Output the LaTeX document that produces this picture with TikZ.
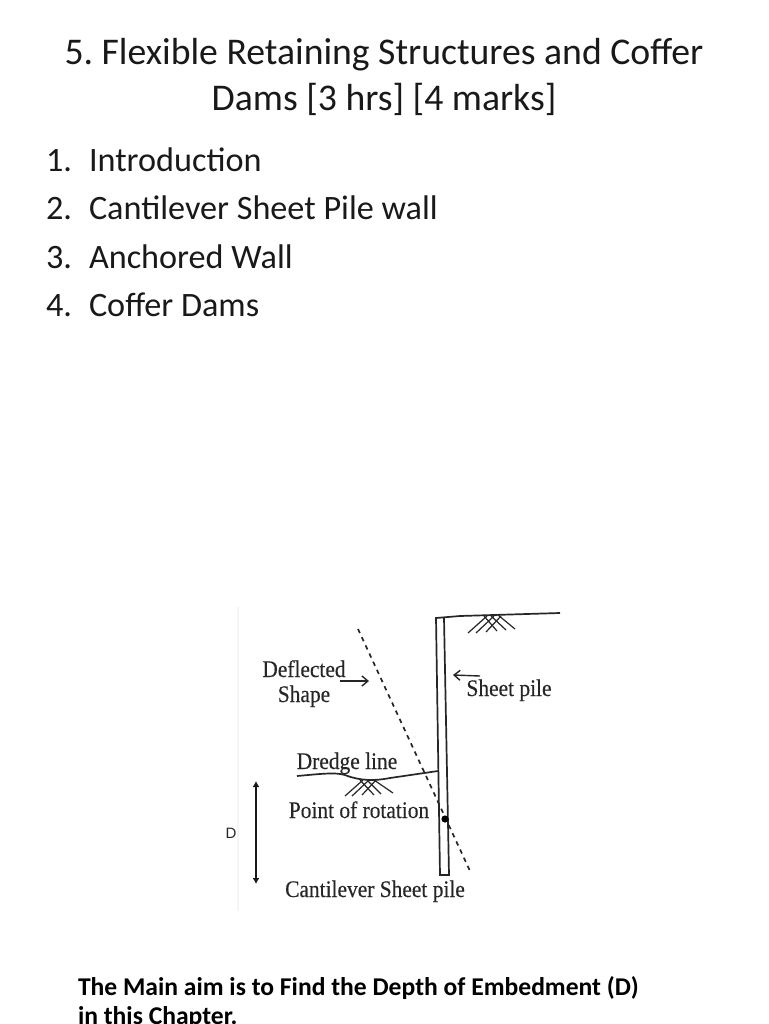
\documentclass[tikz,border=0pt]{standalone}
\usepackage{fontspec}
\setmainfont{Carlito}
\newfontfamily\figserif[FakeStretch=0.9,FakeBold=0.25]{Liberation Serif}
\newfontfamily\figsans{Liberation Sans}
\usetikzlibrary{arrows.meta}
\tikzset{
  every node/.style={inner sep=0pt,outer sep=0pt},
  titletext/.style={font=\frenchspacing\fontsize{37.7}{46}\selectfont,text=black!90,anchor=base},
  listtext/.style={font=\fontsize{34.2}{40}\selectfont,text=black!90,anchor=base west},
  listnum/.style={font=\fontsize{34.2}{40}\selectfont,text=black!90,anchor=base east},
  boldtext/.style={font=\fontsize{25.6}{30}\selectfont\bfseries,anchor=base west},
  figtext/.style={font=\fontsize{23.8}{24}\selectfont\figserif,text=black!85,anchor=base},
  wall/.style={line width=1.7pt,black!85},
  hatch/.style={line width=1.2pt,black!85},
  dashline/.style={line width=1.7pt,black!85,dash pattern=on 4.5pt off 4.5pt},
  thinarrow/.style={line width=1.4pt,black!85,-{Straight Barb[length=6pt,width=10pt]}},
  dimarrow/.style={line width=2pt,black!90,{Latex[length=6pt,width=7pt]}-{Latex[length=6pt,width=7pt]}},
}
\begin{document}
\begin{tikzpicture}[x=1pt,y=-1pt]
\useasboundingbox (0,0) rectangle (768,1024);
\clip (0,0) rectangle (768,1024);
\fill[white] (0,0) rectangle (768,1024);
\node[titletext] (t1) at (384,65) {5. Flexible Retaining Structures and Coffer};
\node[titletext] (t2) at (384,111) {Dams [3 hrs] [4 marks]};
\node[listnum] (n1) at (72,172) {1.}; \node[listtext] (l1) at (89,172) {Introduction};
\node[listnum] (n2) at (72,220) {2.}; \node[listtext] (l2) at (89,220) {Cantilever Sheet Pile wall};
\node[listnum] (n3) at (72,268) {3.}; \node[listtext] (l3) at (89,268) {Anchored Wall};
\node[listnum] (n4) at (72,316) {4.}; \node[listtext] (l4) at (89,316) {Coffer Dams};
\fill[black!4] (237,607) rectangle (239,911);
% wall
\draw[wall] (560,613) -- (460,616) -- (436,618) -- (440,875) -- (449,875) -- (444,618);
\draw[hatch] (468,633) -- (487,616) (476,633) -- (494,616) (486,632) -- (501,616)
  (484,616) -- (497,631) (491,616) -- (506,630) (498,615) -- (515,629);
% dredge line
\draw[wall] (297,776) .. controls (320,774) and (335,772) .. (345,775) .. controls (360,781) and (375,781) .. (390,778) -- (438,771);
\draw[hatch] (345,796) -- (363,780) (352,796) -- (369,780) (362,795) -- (376,780)
  (360,780) -- (374,795) (367,780) -- (381,794) (374,780) -- (393,793);
% deflected
\coordinate (dtop) at (358,629);
\coordinate (dbot) at (470,871);
\draw[dashline] (dtop) -- (dbot);
\fill[black] (445,819) circle (3.6);
% labels
\node[figtext] (defl1) at (304,677) {Deflected};
\node[figtext] (defl2) at (304,702) {Shape};
\coordinate (da) at (340,681);
\coordinate (db) at (369,681);
\draw[thinarrow] (da) -- (db);
\node[figtext] (sp) at (509,696) {Sheet pile};
\coordinate (sa) at (480,676);
\coordinate (sb) at (453,675);
\draw[thinarrow] (sa) -- (sb);
\node[figtext] (dl) at (347,769) {Dredge line};
\node[figtext] (por) at (359,818) {Point of rotation};
\node[figtext] (cs) at (375,897) {Cantilever Sheet pile};
\coordinate (dd1) at (256,781);
\coordinate (dd2) at (256,884);
\draw[dimarrow] (dd1) -- (dd2);
\node[font=\fontsize{15}{16}\selectfont\figsans,text=black!85,anchor=base] (dlab) at (231,838) {D};
\node[boldtext] (b1) at (78,995) {The Main aim is to Find the Depth of Embedment (D)};
\node[boldtext] (b2) at (78,1024) {in this Chapter.};
\end{tikzpicture}
\end{document}
